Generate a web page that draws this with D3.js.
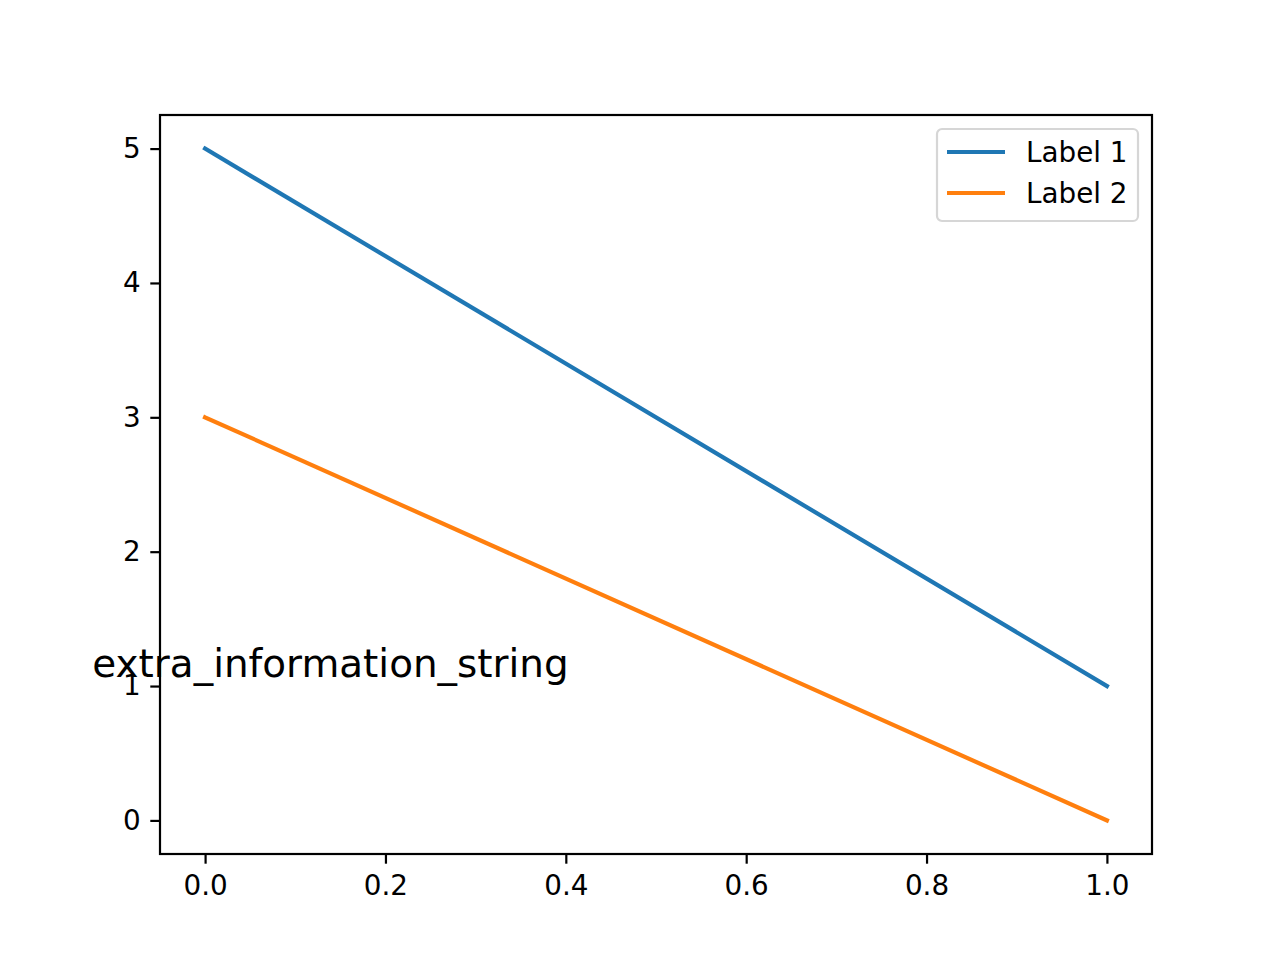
<!DOCTYPE html>
<html>
<head>
<meta charset="utf-8">
<script src="https://cdn.jsdelivr.net/npm/d3@7"></script>
<style>
  body { margin: 0; background: #fff; }
  svg { display: block; }
</style>
</head>
<body>
<div class="canvas"></div>
<script>
// data
const xValues = [0, 1];
const series1 = [5, 1];
const series2 = [3, 0];
const seriesNames = ['Label 1', 'Label 2'];
const xTicks = [0, 0.2, 0.4, 0.6, 0.8, 1.0];
const yTicks = [0, 1, 2, 3, 4, 5];
const note = 'extra_information_string';

const dims = {
  width: 1280,
  height: 960,
  left: 160,
  right: 1152,
  top: 115,
  bottom: 854,
  fontFamily: 'DejaVu Sans',
  fontSize: 27.8
};

const colors = ['#1f77b4', '#ff7f0e'];

const svg = d3.select('.canvas')
  .append('svg')
  .attr('width', dims.width)
  .attr('height', dims.height);

// scales (matplotlib style 5% margins)
const x = d3.scaleLinear().domain([-0.05, 1.05]).range([dims.left, dims.right]);
const y = d3.scaleLinear().domain([-0.25, 5.25]).range([dims.bottom, dims.top]);

// axes
const xAxis = d3.axisBottom(x)
  .tickValues(xTicks)
  .tickSize(9.7)
  .tickPadding(11.5)
  .tickFormat(d3.format('.1f'));
const yAxis = d3.axisLeft(y)
  .tickValues(yTicks)
  .tickSize(9.7)
  .tickPadding(9.7)
  .tickFormat(d3.format('d'));

const xAxisGroup = svg.append('g')
  .attr('transform', `translate(0, ${dims.bottom})`)
  .call(xAxis);
const yAxisGroup = svg.append('g')
  .attr('transform', `translate(${dims.left}, 0)`)
  .call(yAxis);

[xAxisGroup, yAxisGroup].forEach((g) => {
  g.select('path.domain').remove();
  g.selectAll('.tick line').attr('stroke', '#000').attr('stroke-width', 2.2);
  g.selectAll('.tick text')
    .attr('fill', '#000')
    .attr('font-family', dims.fontFamily)
    .attr('font-size', dims.fontSize);
});

// lines
const line = d3.line()
  .x((d, i) => x(xValues[i]))
  .y((d) => y(d));

[series1, series2].forEach((s, i) => {
  svg.append('path')
    .datum(s)
    .attr('fill', 'none')
    .attr('stroke', colors[i])
    .attr('stroke-width', 4.2)
    .attr('stroke-linecap', 'square')
    .attr('d', line);
});

// frame
svg.append('rect')
  .attr('x', dims.left)
  .attr('y', dims.top)
  .attr('width', dims.right - dims.left)
  .attr('height', dims.bottom - dims.top)
  .attr('fill', 'none')
  .attr('stroke', '#000')
  .attr('stroke-width', 2.2);

// legend
const legend = svg.append('g').attr('transform', 'translate(937, 129)');
legend.append('rect')
  .attr('width', 201)
  .attr('height', 92)
  .attr('rx', 5)
  .attr('fill', '#fff')
  .attr('fill-opacity', 0.8)
  .attr('stroke', '#d6d6d6')
  .attr('stroke-width', 2.2);

seriesNames.forEach((name, i) => {
  const yy = 23 + i * 41;
  legend.append('line')
    .attr('x1', 10)
    .attr('x2', 68)
    .attr('y1', yy)
    .attr('y2', yy)
    .attr('stroke', colors[i])
    .attr('stroke-width', 4.2);
  legend.append('text')
    .attr('x', 89)
    .attr('y', yy)
    .attr('dy', '0.36em')
    .attr('font-family', dims.fontFamily)
    .attr('font-size', dims.fontSize)
    .text(name);
});

// extra text
svg.append('text')
  .attr('x', x(-0.125))
  .attr('y', y(1) - 9)
  .attr('font-family', dims.fontFamily)
  .attr('font-size', 38.9)
  .attr('fill', '#000')
  .text(note);
</script>
</body>
</html>
